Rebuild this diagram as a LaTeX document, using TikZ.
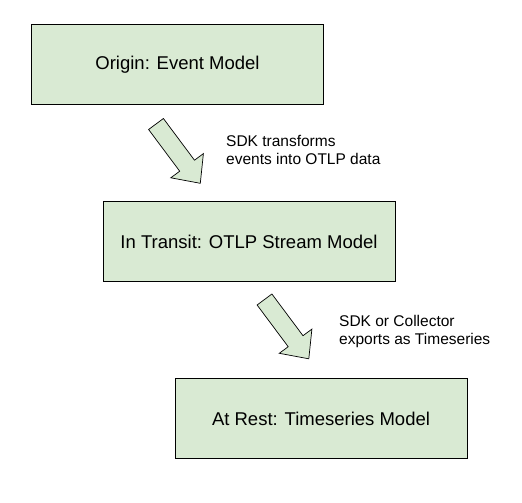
\documentclass[tikz,border=0pt]{standalone}
\usepackage{fontspec}
\setmainfont{Liberation Sans}
\definecolor{modelgreen}{HTML}{D9EAD3}

\begin{document}
\begin{tikzpicture}[x=1pt,y=-1pt,
    model/.style={draw=black,fill=modelgreen,line width=0.9pt,
      minimum width=292pt,minimum height=80pt,
      font=\fontsize{18.5}{22}\selectfont},
    note/.style={anchor=north west,align=left,inner sep=0pt,
      font=\fontsize{15.5}{18}\selectfont}]
  \useasboundingbox (0,0) rectangle (522,503);
  % the three models
  \node[model] (origin) at (177.5,64.5) {Origin: Event Model};
  \node[model] (transit) at (249,241.5) {In Transit: OTLP Stream Model};
  \node[model] (rest) at (321,418.5) {At Rest: Timeseries Model};
  % block arrows between them
  \foreach \tx/\ty in {156/124,264.5/299.5}{
    \begin{scope}[shift={(\tx,\ty)}]
      \draw[fill=modelgreen,line width=0.7pt] (-7.4,5.5) -- (7.4,-5.5)
        -- (38.5,36.2) -- (47.4,29.6) -- (44.3,59.3) -- (14.8,53.8)
        -- (23.7,47.2) -- cycle;
    \end{scope}
  }
  \node[note] (sdk) at (226,135.5) {SDK transforms\\events into OTLP data};
  \node[note] (export) at (339,315.5) {SDK or Collector\\exports as Timeseries};
\end{tikzpicture}
\end{document}
